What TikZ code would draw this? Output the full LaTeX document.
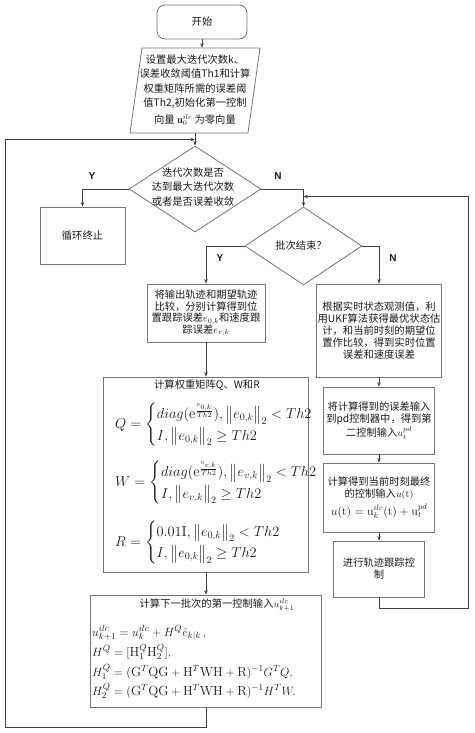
\documentclass[tikz,border=0pt]{standalone}
\usepackage{amsmath}
\usepackage{fontspec}
\newfontfamily\cjk{Noto Sans CJK SC}
\newfontfamily\ynfont{Liberation Sans}
\usetikzlibrary{arrows.meta,shapes.geometric,calc}
\definecolor{linec}{HTML}{404040}
\definecolor{boxc}{HTML}{757575}
\definecolor{txtc}{HTML}{1A1A1A}
\begin{document}
\begin{tikzpicture}[x=1pt,y=-1pt,
  line/.style={draw=linec, line width=0.8pt},
  arr/.style={line, -{Stealth[length=4.5pt,width=3.5pt]}},
  box/.style={draw=boxc, line width=0.8pt, rectangle, inner sep=0pt, align=center, text=txtc, font=\cjk\fontsize{10.3}{12}\selectfont},
  dia/.style={draw=boxc, line width=0.8pt, diamond, inner sep=0pt},
  txt/.style={inner sep=0pt, align=center, text=txtc, font=\cjk\fontsize{10.3}{12}\selectfont},
  eq/.style={inner sep=0pt, text=txtc, font=\fontsize{14.6}{17}\selectfont},
  eqb/.style={inner sep=0pt, text=txtc, font=\fontsize{13.2}{15.5}\selectfont},
  yn/.style={inner sep=0pt, text=txtc, font=\ynfont\bfseries\fontsize{10}{12}\selectfont}
]
\useasboundingbox (0,0) rectangle (474,733);
\fill[white] (0,0) rectangle (474,733);

% start
\node[box, rounded corners=8pt, minimum width=90pt, minimum height=34pt] (start) at (202,22) {开始};

% init parallelogram
\draw[draw=boxc, line width=0.8pt] (142,48) -- (260,48) -- (248,133) -- (130,133) -- cycle;
\node[txt, minimum width=110pt, minimum height=85pt, font=\cjk\fontsize{10.3}{14.2}\selectfont] (init) at (195,90.5)
  {设置最大迭代次数k、\\误差收敛阈值Th1和计算\\权重矩阵所需的误差阈\\值Th2,初始化第一控制\\[3pt]向量 $\mathbf{u}_0^{ilc}$ 为零向量};

% decision 1
\node[dia, minimum width=132pt, minimum height=86pt] (d1) at (195,189) {};
\node[txt, font=\cjk\fontsize{10.3}{14.5}\selectfont] (d1t) at (193,187) {迭代次数是否\\达到最大迭代次数\\或者是否误差收敛};

% stop
\node[box, minimum width=85pt, minimum height=57pt] (stop) at (82.5,235.5) {循环终止};

% decision 2
\node[dia, minimum width=117pt, minimum height=78pt] (d2) at (303.5,246) {};
\node[txt] (d2t) at (301,246) {批次结束？};

% left column
\node[box, minimum width=118pt, minimum height=58pt, font=\cjk\fontsize{10.3}{11.7}\selectfont] (L1) at (206,313)
  {将输出轨迹和期望轨迹\\比较，分别计算得到位\\置跟踪误差$e_{0,k}$和速度跟\\踪误差$e_{v,k}$};

\node[box, minimum width=205pt, minimum height=195pt] (Q) at (206,474.5) {};
\node[txt] (Qt) at (207,385) {计算权重矩阵Q、W和R};
\node[eq, anchor=west] (Qeq) at (115,425)
  {$Q=\begin{cases} diag(\mathrm{e}^{\frac{e_{0,k}}{Th2}}),\bigl\|e_{0,k}\bigr\|_2<Th2\\[1pt] I,\bigl\|e_{0,k}\bigr\|_2\geq Th2\end{cases}$};
\node[eq, anchor=west] (Weq) at (115,483)
  {$W=\begin{cases} diag(\mathrm{e}^{\frac{e_{v,k}}{Th2}}),\bigl\|e_{v,k}\bigr\|_2<Th2\\[1pt] I,\bigl\|e_{v,k}\bigr\|_2\geq Th2\end{cases}$};
\node[eq, anchor=west] (Req) at (115,543)
  {$R=\begin{cases} 0.01\mathrm{I},\bigl\|e_{0,k}\bigr\|_2<Th2\\[1pt] I,\bigl\|e_{0,k}\bigr\|_2\geq Th2\end{cases}$};

\node[box, minimum width=231pt, minimum height=112pt] (B) at (206,651) {};
\node[txt] (Bt) at (217,605) {计算下一批次的第一控制输入$u_{k+1}^{ilc}$};
\node[eqb, anchor=base west] (B1) at (92,636) {$u_{k+1}^{ilc}=u_k^{ilc}+H^{Q}\hat{e}_{k|k}\,,$};
\node[eqb, anchor=base west] (B2) at (92,656) {$H^{Q}=[\mathrm{H}_1^{Q}\mathrm{H}_2^{Q}],$};
\node[eqb, anchor=base west] (B3) at (92,676) {$H_1^{Q}=(\mathrm{G}^{T}\mathrm{QG}+\mathrm{H}^{T}\mathrm{WH}+\mathrm{R})^{-1}G^{T}Q,$};
\node[eqb, anchor=base west] (B4) at (92,695) {$H_2^{Q}=(\mathrm{G}^{T}\mathrm{QG}+\mathrm{H}^{T}\mathrm{WH}+\mathrm{R})^{-1}H^{T}W.$};

% right column
\node[box, minimum width=125pt, minimum height=93pt] (R1) at (379,330.5)
  {根据实时状态观测值，利\\用UKF算法获得最优状态估\\计，和当前时刻的期望位\\置作比较，得到实时位置\\误差和速度误差};
\node[box, minimum width=111pt, minimum height=67pt] (R2) at (379,420.5)
  {将计算得到的误差输入\\到pd控制器中，得到第\\[1pt]二控制输入$u_t^{pd}$};
\node[box, minimum width=111pt, minimum height=69pt, font=\cjk\fontsize{10.3}{12}\selectfont] (R3) at (379,497.5)
  {计算得到当前时刻最终\\的控制输入$u(\mathrm{t})$\\[3pt]{\fontsize{12}{13}\selectfont$u(\mathrm{t})=\mathrm{u}_k^{ilc}(\mathrm{t})+\mathrm{u}_t^{pd}$}};
\node[box, minimum width=91pt, minimum height=56pt] (R4) at (379,569) {进行轨迹跟踪控\\制};

% labels
\node[yn] (y1) at (92,176) {Y};
\node[yn] (n1) at (278,176) {N};
\node[yn] (y2) at (220,258) {Y};
\node[yn] (n2) at (393,258) {N};

% connectors
\coordinate (j1) at ($(d1.north)+(0,-6)$);
\coordinate (j2) at ($(d2.north)+(0,-10)$);
\draw[arr] (start.south) -- (start.south |- init.north);
\draw[arr] (init.south) -- (d1.north);
\draw[arr] (d1.west) -| (stop.north);
\draw[arr] (d1.east) -| (d2.north);
\draw[arr] (d2.west) -| (L1.north);
\draw[arr] (d2.east) -| (R1.north);
\draw[arr] (L1.south) -- (Q.north);
\draw[arr] (Q.south) -- (B.north);
\draw[arr] (R1.south) -- (R2.north);
\draw[arr] (R2.south) -- (R3.north);
\draw[arr] (R3.south) -- (R4.north);
\draw[arr] (R4.south) -- ++(0,11) -| ($(j2)+(164.5,0)$) -- (j2);
\draw[arr] (B.south) -- ++(0,20) -| ($(j1)+(-190,0)$) -- (j1);
\end{tikzpicture}
\end{document}
